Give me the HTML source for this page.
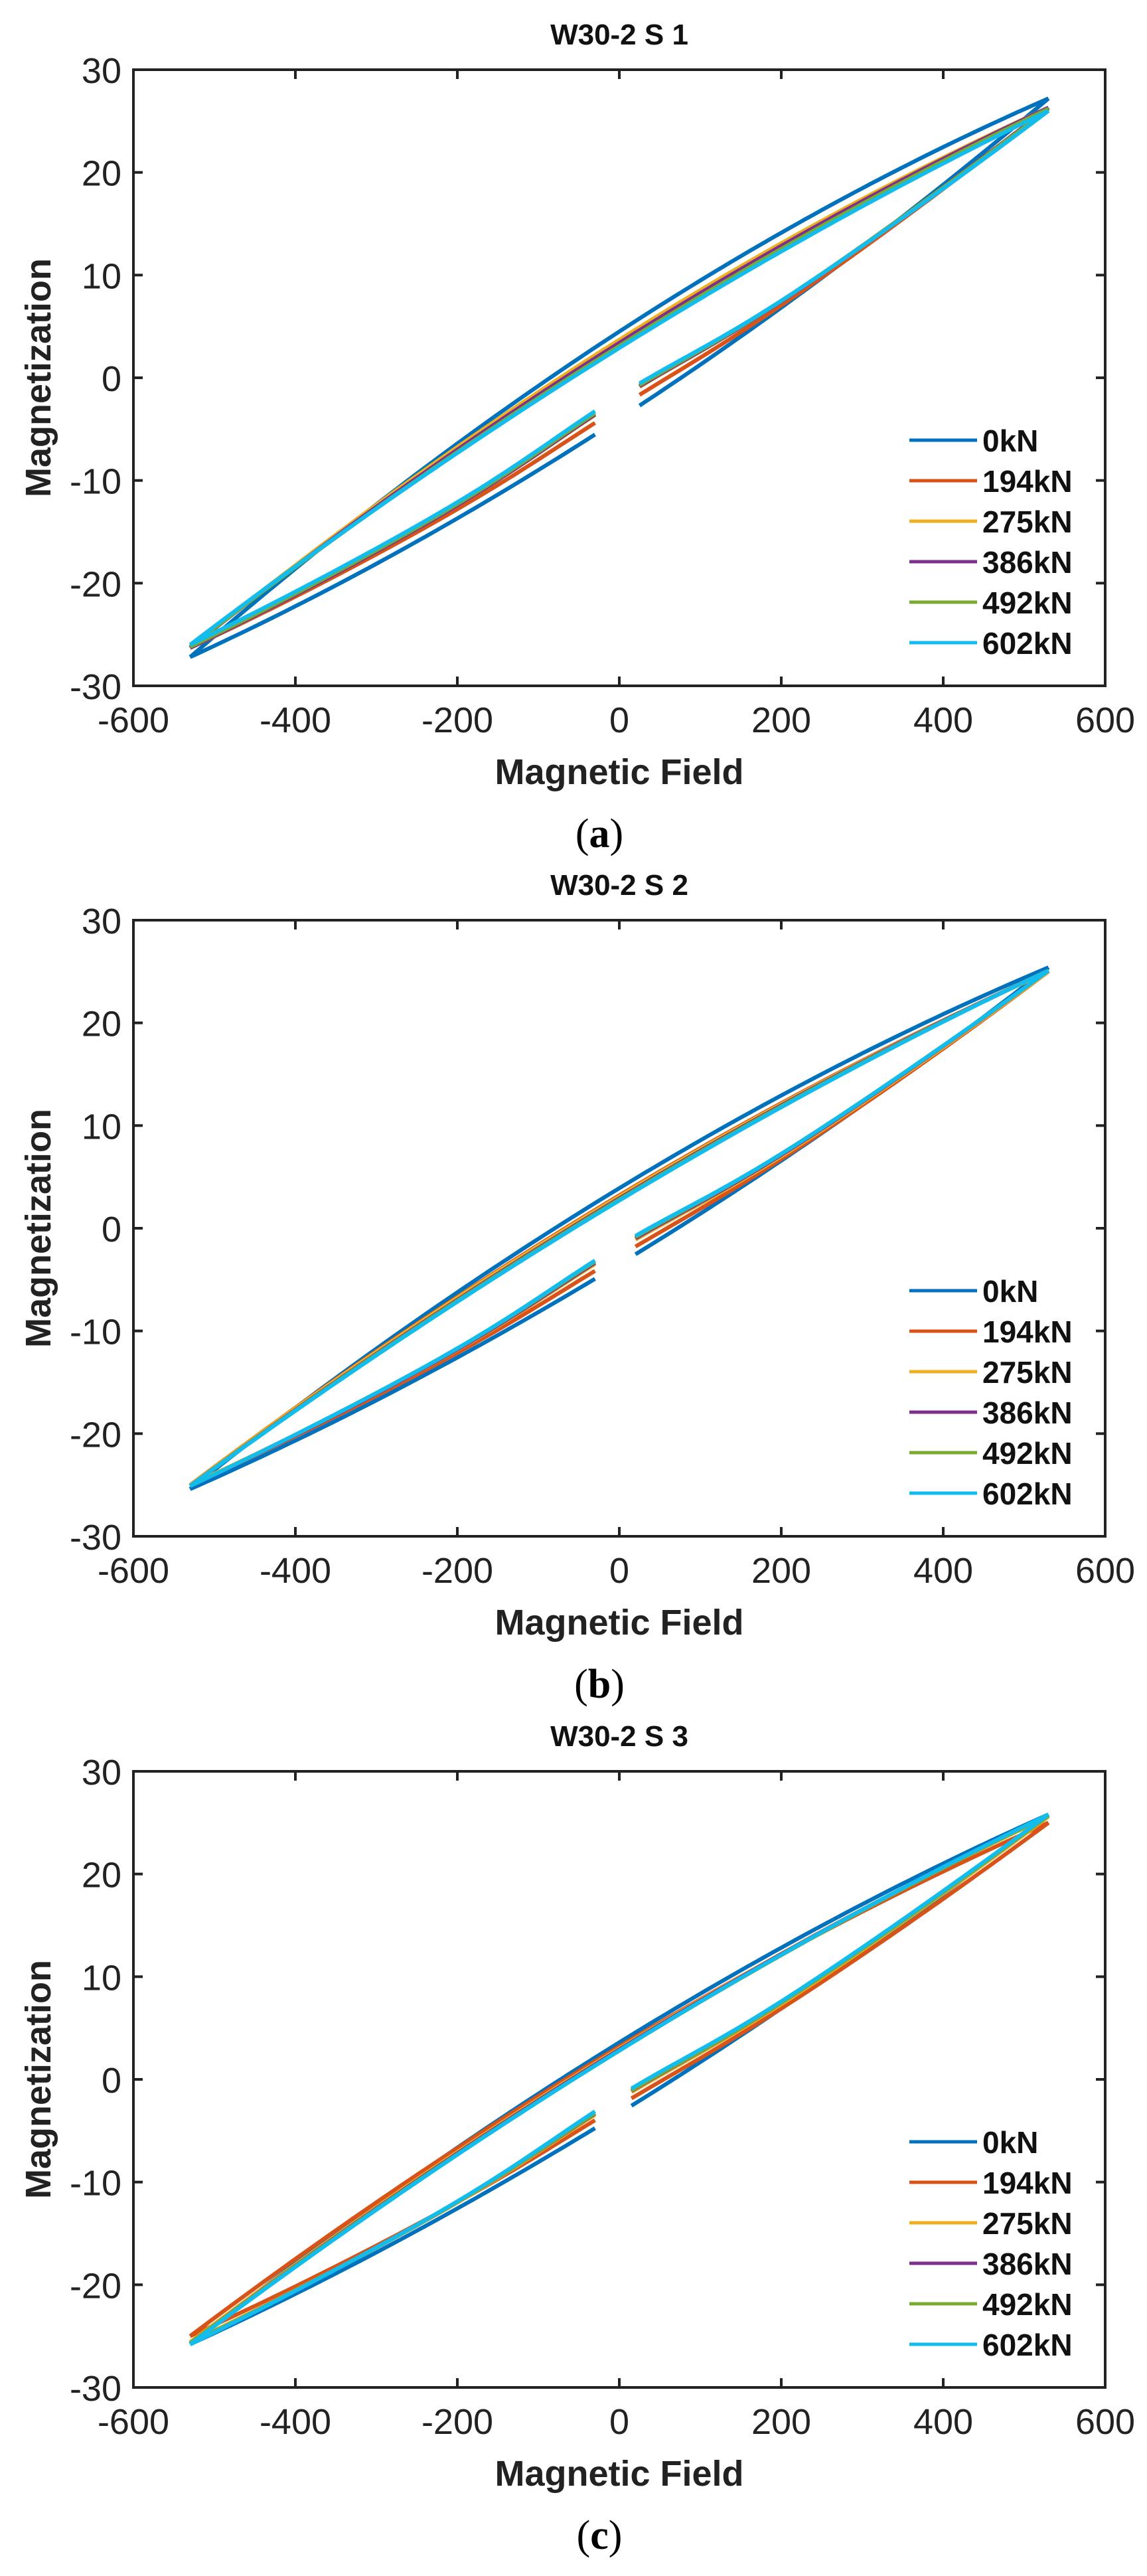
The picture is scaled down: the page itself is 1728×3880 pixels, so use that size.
<!DOCTYPE html>
<html><head><meta charset="utf-8"><style>
html,body{margin:0;padding:0;background:#fff;}
svg{display:block;}
</style></head><body>
<svg id="s" xmlns="http://www.w3.org/2000/svg" width="1728" height="3880" viewBox="0 0 1728 3880"></svg>
<script>
const S=document.getElementById('s');
const NS='http://www.w3.org/2000/svg';
function el(t,a,txt){const e=document.createElementNS(NS,t);for(const k in a)e.setAttribute(k,a[k]);if(txt!==undefined)e.textContent=txt;S.appendChild(e);return e;}
const L=201,R=1665,W=R-L,H=928;
const cols=['#0072BD','#D95319','#EDB120','#7E2F8E','#77AC30','#12BDEE'];
const names=['0kN','194kN','275kN','386kN','492kN','602kN'];
const fz=[1.0,0.85,0.7,0.68,0.66,0.62];
const plots=[
 {top:105,title:'W30-2 S 1',cap:'(a)',gap:[-30,25],
  s:[[27.2,4.5,4.0],[26.3,3.6,3.4],[26.3,3.7,3.0],[26.3,3.4,3.0],[26.2,3.1,2.9],[26.0,2.9,2.8]]},
 {top:1386,title:'W30-2 S 2',cap:'(b)',gap:[-30,20],
  s:[[25.4,3.9,3.5],[25.0,3.2,3.2],[25.0,3.1,2.9],[25.1,2.9,2.8],[25.1,2.8,2.7],[25.1,2.7,2.7]]},
 {top:2668,title:'W30-2 S 3',cap:'(c)',gap:[-30,15],
  s:[[25.8,3.6,3.3],[25.0,3.2,3.0],[25.6,3.0,2.8],[25.7,2.9,2.7],[25.7,2.8,2.7],[25.8,2.8,2.6]]}
];
const F='"Liberation Sans", Arial, sans-serif';
plots.forEach(p=>{
  const T=p.top,B=T+H;
  const X=v=>L+(v+600)/1200*W, Y=v=>B-(v+30)/60*H;
  p.s.forEach((q,i)=>{
    const [e,c,d]=q,Hm=530,k=e/Hm,f=fz[i];
    let up=[],lo1=[],lo2=[];
    for(let h=Hm;h>=-Hm;h-=10){const u=h/Hm;up.push(X(h).toFixed(1)+','+Y(k*h+c*(1-u*u)).toFixed(1));}
    const lo=h=>{const u=h/Hm;const a=1-Math.exp(-(u/0.25)*(u/0.25));return k*h-d*(1-u*u)*(f+(1-f)*a);};
    for(let h=-Hm;h<=p.gap[0];h+=10){lo1.push(X(h).toFixed(1)+','+Y(lo(h)).toFixed(1));}
    lo1.push(X(p.gap[0]).toFixed(1)+','+Y(lo(p.gap[0])).toFixed(1));
    for(let h=p.gap[1];h<=Hm;h+=10){lo2.push(X(h).toFixed(1)+','+Y(lo(h)).toFixed(1));}
    lo2.push(X(Hm).toFixed(1)+','+Y(e).toFixed(1));
    [up,lo1,lo2].forEach(pts=>el('polyline',{points:pts.join(' '),fill:'none',stroke:cols[i],'stroke-width':6,'stroke-linejoin':'round'}));
  });
  el('rect',{x:L,y:T,width:W,height:H,fill:'none',stroke:'#222','stroke-width':4});
  for(let v=-600;v<=600;v+=200){
    const x=X(v);
    el('line',{x1:x,y1:B,x2:x,y2:B-14,stroke:'#222','stroke-width':4});
    el('line',{x1:x,y1:T,x2:x,y2:T+14,stroke:'#222','stroke-width':4});
    el('text',{x:x,y:B+70,'font-family':F,'font-size':54,'text-anchor':'middle',fill:'#222'},String(v));
  }
  for(let v=-30;v<=30;v+=10){
    const y=Y(v);
    el('line',{x1:L,y1:y,x2:L+14,y2:y,stroke:'#222','stroke-width':4});
    el('line',{x1:R,y1:y,x2:R-14,y2:y,stroke:'#222','stroke-width':4});
    el('text',{x:183,y:y+20,'font-family':F,'font-size':54,'text-anchor':'end',fill:'#222'},String(v));
  }
  el('text',{x:(L+R)/2,y:T-38,'font-family':F,'font-size':44,'font-weight':'bold','text-anchor':'middle',fill:'#111'},p.title);
  el('text',{x:(L+R)/2,y:B+148,'font-family':F,'font-size':54,'font-weight':'bold','text-anchor':'middle',fill:'#222'},'Magnetic Field');
  el('text',{x:0,y:0,'font-family':F,'font-size':54,'font-weight':'bold','text-anchor':'middle',fill:'#222',transform:`translate(76,${(T+B)/2}) rotate(-90)`},'Magnetization');
  const cap=el('text',{x:903,y:B+243,'font-family':'"Liberation Serif", serif','font-size':62,'text-anchor':'middle',fill:'#000'});
  const t1=document.createElementNS(NS,'tspan');t1.textContent='(';cap.appendChild(t1);
  const t2=document.createElementNS(NS,'tspan');t2.setAttribute('font-weight','bold');t2.textContent=p.cap[1];cap.appendChild(t2);
  const t3=document.createElementNS(NS,'tspan');t3.textContent=')';cap.appendChild(t3);
  for(let i=0;i<6;i++){
    const y=T+558+i*61;
    el('line',{x1:1370,y1:y,x2:1472,y2:y,stroke:cols[i],'stroke-width':5});
    el('text',{x:1480,y:y+17,'font-family':F,'font-size':46,'font-weight':'bold',fill:'#111'},names[i]);
  }
});
</script>
</body></html>
